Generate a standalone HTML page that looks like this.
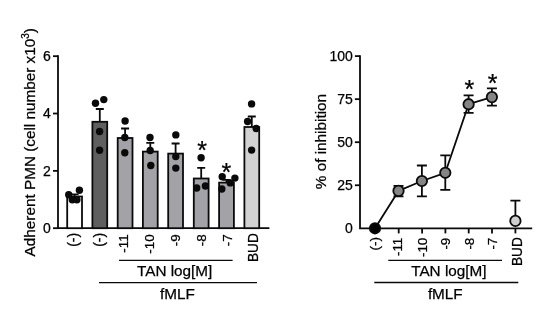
<!DOCTYPE html>
<html lang="en"><head><meta charset="utf-8"><title>Adherent PMN / % of inhibition</title>
<style>html,body{margin:0;padding:0;background:#fff;}svg{display:block;}text{font-family:"Liberation Sans", Arial, Helvetica, sans-serif;fill:#000;stroke:#000;stroke-width:0.25px;}</style></head><body>
<svg width="550" height="314" viewBox="0 0 550 314">
<rect x="0" y="0" width="550" height="314" fill="#ffffff"/>
<g stroke="#0a0a0a" stroke-width="1.8" fill="none" stroke-linecap="butt">
<path d="M58.00 55.28 V228.20 H269.4"/>
<path d="M53 228.20 H58.00"/>
<path d="M53 170.86 H58.00"/>
<path d="M53 113.52 H58.00"/>
<path d="M53 56.18 H58.00"/>
</g>
<text x="50.8" y="233.00" font-size="14" text-anchor="end">0</text>
<text x="50.8" y="175.66" font-size="14" text-anchor="end">2</text>
<text x="50.8" y="118.32" font-size="14" text-anchor="end">4</text>
<text x="50.8" y="60.98" font-size="14" text-anchor="end">6</text>
<path d="M74.60 196.50 V194.30 M70.60 194.30 H78.60" stroke="#0a0a0a" stroke-width="1.8" fill="none"/>
<rect x="67.20" y="196.50" width="14.80" height="31.70" fill="#ffffff" stroke="#0a0a0a" stroke-width="1.8"/>
<path d="M99.80 121.80 V109.00 M95.80 109.00 H103.80" stroke="#0a0a0a" stroke-width="1.8" fill="none"/>
<rect x="92.40" y="121.80" width="14.80" height="106.40" fill="#5f5f5f" stroke="#0a0a0a" stroke-width="1.8"/>
<path d="M125.10 138.00 V128.50 M121.10 128.50 H129.10" stroke="#0a0a0a" stroke-width="1.8" fill="none"/>
<rect x="117.70" y="138.00" width="14.80" height="90.20" fill="#a3a3a7" stroke="#0a0a0a" stroke-width="1.8"/>
<path d="M150.30 151.60 V142.90 M146.30 142.90 H154.30" stroke="#0a0a0a" stroke-width="1.8" fill="none"/>
<rect x="142.90" y="151.60" width="14.80" height="76.60" fill="#a3a3a7" stroke="#0a0a0a" stroke-width="1.8"/>
<path d="M175.60 153.60 V143.50 M171.60 143.50 H179.60" stroke="#0a0a0a" stroke-width="1.8" fill="none"/>
<rect x="168.20" y="153.60" width="14.80" height="74.60" fill="#a3a3a7" stroke="#0a0a0a" stroke-width="1.8"/>
<path d="M201.20 178.50 V167.80 M197.20 167.80 H205.20" stroke="#0a0a0a" stroke-width="1.8" fill="none"/>
<rect x="193.80" y="178.50" width="14.80" height="49.70" fill="#a3a3a7" stroke="#0a0a0a" stroke-width="1.8"/>
<path d="M226.50 182.60 V179.90 M222.50 179.90 H230.50" stroke="#0a0a0a" stroke-width="1.8" fill="none"/>
<rect x="219.10" y="182.60" width="14.80" height="45.60" fill="#a3a3a7" stroke="#0a0a0a" stroke-width="1.8"/>
<path d="M251.80 127.00 V116.50 M247.80 116.50 H255.80" stroke="#0a0a0a" stroke-width="1.8" fill="none"/>
<rect x="244.40" y="127.00" width="14.80" height="101.20" fill="#d2d2d2" stroke="#0a0a0a" stroke-width="1.8"/>
<circle cx="79.40" cy="190.20" r="3.7" fill="#0a0a0a"/>
<circle cx="68.70" cy="194.80" r="3.7" fill="#0a0a0a"/>
<circle cx="72.30" cy="199.80" r="3.7" fill="#0a0a0a"/>
<circle cx="76.90" cy="199.80" r="3.7" fill="#0a0a0a"/>
<circle cx="95.50" cy="103.30" r="3.7" fill="#0a0a0a"/>
<circle cx="103.80" cy="99.60" r="3.7" fill="#0a0a0a"/>
<circle cx="99.60" cy="131.50" r="3.7" fill="#0a0a0a"/>
<circle cx="99.60" cy="150.30" r="3.7" fill="#0a0a0a"/>
<circle cx="125.10" cy="121.00" r="3.7" fill="#0a0a0a"/>
<circle cx="124.80" cy="137.50" r="3.7" fill="#0a0a0a"/>
<circle cx="124.80" cy="152.70" r="3.7" fill="#0a0a0a"/>
<circle cx="150.00" cy="137.50" r="3.7" fill="#0a0a0a"/>
<circle cx="150.20" cy="150.50" r="3.7" fill="#0a0a0a"/>
<circle cx="150.80" cy="165.50" r="3.7" fill="#0a0a0a"/>
<circle cx="175.80" cy="134.90" r="3.7" fill="#0a0a0a"/>
<circle cx="175.80" cy="156.50" r="3.7" fill="#0a0a0a"/>
<circle cx="175.80" cy="168.10" r="3.7" fill="#0a0a0a"/>
<circle cx="201.10" cy="157.70" r="3.7" fill="#0a0a0a"/>
<circle cx="196.70" cy="188.00" r="3.7" fill="#0a0a0a"/>
<circle cx="205.40" cy="186.00" r="3.7" fill="#0a0a0a"/>
<circle cx="222.20" cy="176.80" r="3.7" fill="#0a0a0a"/>
<circle cx="234.90" cy="178.10" r="3.7" fill="#0a0a0a"/>
<circle cx="230.30" cy="182.90" r="3.7" fill="#0a0a0a"/>
<circle cx="221.80" cy="189.00" r="3.7" fill="#0a0a0a"/>
<circle cx="251.60" cy="103.90" r="3.7" fill="#0a0a0a"/>
<circle cx="247.60" cy="121.50" r="3.7" fill="#0a0a0a"/>
<circle cx="256.20" cy="128.50" r="3.7" fill="#0a0a0a"/>
<circle cx="251.60" cy="150.10" r="3.7" fill="#0a0a0a"/>
<text transform="translate(78.40 246.8) rotate(-90)" font-size="14" text-anchor="start">(-)</text>
<text transform="translate(103.60 246.8) rotate(-90)" font-size="14" text-anchor="start">(-)</text>
<text transform="translate(128.40 234.3) rotate(-90)" font-size="13.4" text-anchor="end">-11</text>
<text transform="translate(154.20 234.3) rotate(-90)" font-size="13.4" text-anchor="end">-10</text>
<text transform="translate(180.30 234.3) rotate(-90)" font-size="13.4" text-anchor="end">-9</text>
<text transform="translate(206.00 234.3) rotate(-90)" font-size="13.4" text-anchor="end">-8</text>
<text transform="translate(232.00 234.3) rotate(-90)" font-size="13.4" text-anchor="end">-7</text>
<text transform="translate(258.1 233.1) rotate(-90) scale(0.955 1)" font-size="14.4" text-anchor="end">BUD</text>
<text x="202.0" y="158.8" font-size="25" text-anchor="middle" stroke-width="0.7">*</text>
<text x="226.3" y="180.6" font-size="25" text-anchor="middle" stroke-width="0.7">*</text>
<path d="M119 260.3 H232.6 M99 282.6 H257" stroke="#0a0a0a" stroke-width="1.35" fill="none"/>
<text x="174.7" y="276.1" font-size="15.3" text-anchor="middle">TAN log[M]</text>
<text x="177.5" y="299.3" font-size="15.3" text-anchor="middle">fMLF</text>
<text transform="translate(35.1 256.4) rotate(-90)" font-size="15.3" text-anchor="start">Adherent PMN (cell number x10<tspan font-size="10" dy="-6.6">3</tspan><tspan dy="6.6">)</tspan></text>
<g stroke="#0a0a0a" stroke-width="1.8" fill="none">
<path d="M360.00 55.20 V228.30 H532.2"/>
<path d="M354.9 185.25 H360.00"/>
<path d="M354.9 142.20 H360.00"/>
<path d="M354.9 99.15 H360.00"/>
<path d="M354.9 56.10 H360.00"/>
<path d="M398.70 228.30 V233.4"/>
<path d="M422.10 228.30 V233.4"/>
<path d="M445.40 228.30 V233.4"/>
<path d="M468.70 228.30 V233.4"/>
<path d="M492.00 228.30 V233.4"/>
<path d="M515.40 228.30 V233.4"/>
</g>
<text x="352.9" y="233.20" font-size="14" text-anchor="end">0</text>
<text x="352.9" y="190.15" font-size="14" text-anchor="end">25</text>
<text x="352.9" y="147.10" font-size="14" text-anchor="end">50</text>
<text x="352.9" y="104.05" font-size="14" text-anchor="end">75</text>
<text x="352.9" y="61.00" font-size="14" text-anchor="end">100</text>
<path d="M375.00 228.30 L398.50 190.90 L421.90 181.00 L445.30 172.80 L468.60 104.20 L491.90 97.10" stroke="#0a0a0a" stroke-width="1.8" fill="none" stroke-linejoin="round"/>
<path d="M398.50 190.90 V185.80 M393.50 185.80 H403.50 M398.50 190.90 V196.30 M393.50 196.30 H403.50" stroke="#0a0a0a" stroke-width="1.8" fill="none"/>
<path d="M421.90 181.00 V165.50 M416.90 165.50 H426.90 M421.90 181.00 V196.30 M416.90 196.30 H426.90" stroke="#0a0a0a" stroke-width="1.8" fill="none"/>
<path d="M445.30 172.80 V155.30 M440.30 155.30 H450.30 M445.30 172.80 V189.90 M440.30 189.90 H450.30" stroke="#0a0a0a" stroke-width="1.8" fill="none"/>
<path d="M468.60 104.20 V95.30 M463.60 95.30 H473.60 M468.60 104.20 V112.80 M463.60 112.80 H473.60" stroke="#0a0a0a" stroke-width="1.8" fill="none"/>
<path d="M491.90 97.10 V88.30 M486.90 88.30 H496.90 M491.90 97.10 V105.70 M486.90 105.70 H496.90" stroke="#0a0a0a" stroke-width="1.8" fill="none"/>
<path d="M515.40 220.90 V200.70 M510.40 200.70 H520.40" stroke="#0a0a0a" stroke-width="1.8" fill="none"/>
<circle cx="375.00" cy="228.30" r="5.2" fill="#000000" stroke="#0a0a0a" stroke-width="1.8"/>
<circle cx="398.50" cy="190.90" r="5.2" fill="#858585" stroke="#0a0a0a" stroke-width="1.8"/>
<circle cx="421.90" cy="181.00" r="5.2" fill="#858585" stroke="#0a0a0a" stroke-width="1.8"/>
<circle cx="445.30" cy="172.80" r="5.2" fill="#858585" stroke="#0a0a0a" stroke-width="1.8"/>
<circle cx="468.60" cy="104.20" r="5.2" fill="#858585" stroke="#0a0a0a" stroke-width="1.8"/>
<circle cx="491.90" cy="97.10" r="5.2" fill="#858585" stroke="#0a0a0a" stroke-width="1.8"/>
<circle cx="515.40" cy="220.90" r="5.2" fill="#cfcfcf" stroke="#0a0a0a" stroke-width="1.8"/>
<text transform="translate(379.20 250.6) rotate(-90)" font-size="13.5" text-anchor="start">(-)</text>
<text transform="translate(402.40 237.7) rotate(-90)" font-size="13.4" text-anchor="end">-11</text>
<text transform="translate(426.60 237.7) rotate(-90)" font-size="13.4" text-anchor="end">-10</text>
<text transform="translate(450.40 237.7) rotate(-90)" font-size="13.4" text-anchor="end">-9</text>
<text transform="translate(473.60 237.7) rotate(-90)" font-size="13.4" text-anchor="end">-8</text>
<text transform="translate(496.80 237.7) rotate(-90)" font-size="13.4" text-anchor="end">-7</text>
<text transform="translate(522.10 237.1) rotate(-90) scale(0.955 1)" font-size="14.4" text-anchor="end">BUD</text>
<text x="469.3" y="98.2" font-size="25" text-anchor="middle" stroke-width="0.7">*</text>
<text x="492.6" y="91.5" font-size="25" text-anchor="middle" stroke-width="0.7">*</text>
<path d="M388.3 260.3 H502 M374.3 282.5 H518.3" stroke="#0a0a0a" stroke-width="1.35" fill="none"/>
<text x="448.9" y="276.1" font-size="15.3" text-anchor="middle">TAN log[M]</text>
<text x="445.3" y="299.3" font-size="15.3" text-anchor="middle">fMLF</text>
<text transform="translate(325.8 189.2) rotate(-90)" font-size="15.3" text-anchor="start">% of inhibition</text>
</svg></body></html>
